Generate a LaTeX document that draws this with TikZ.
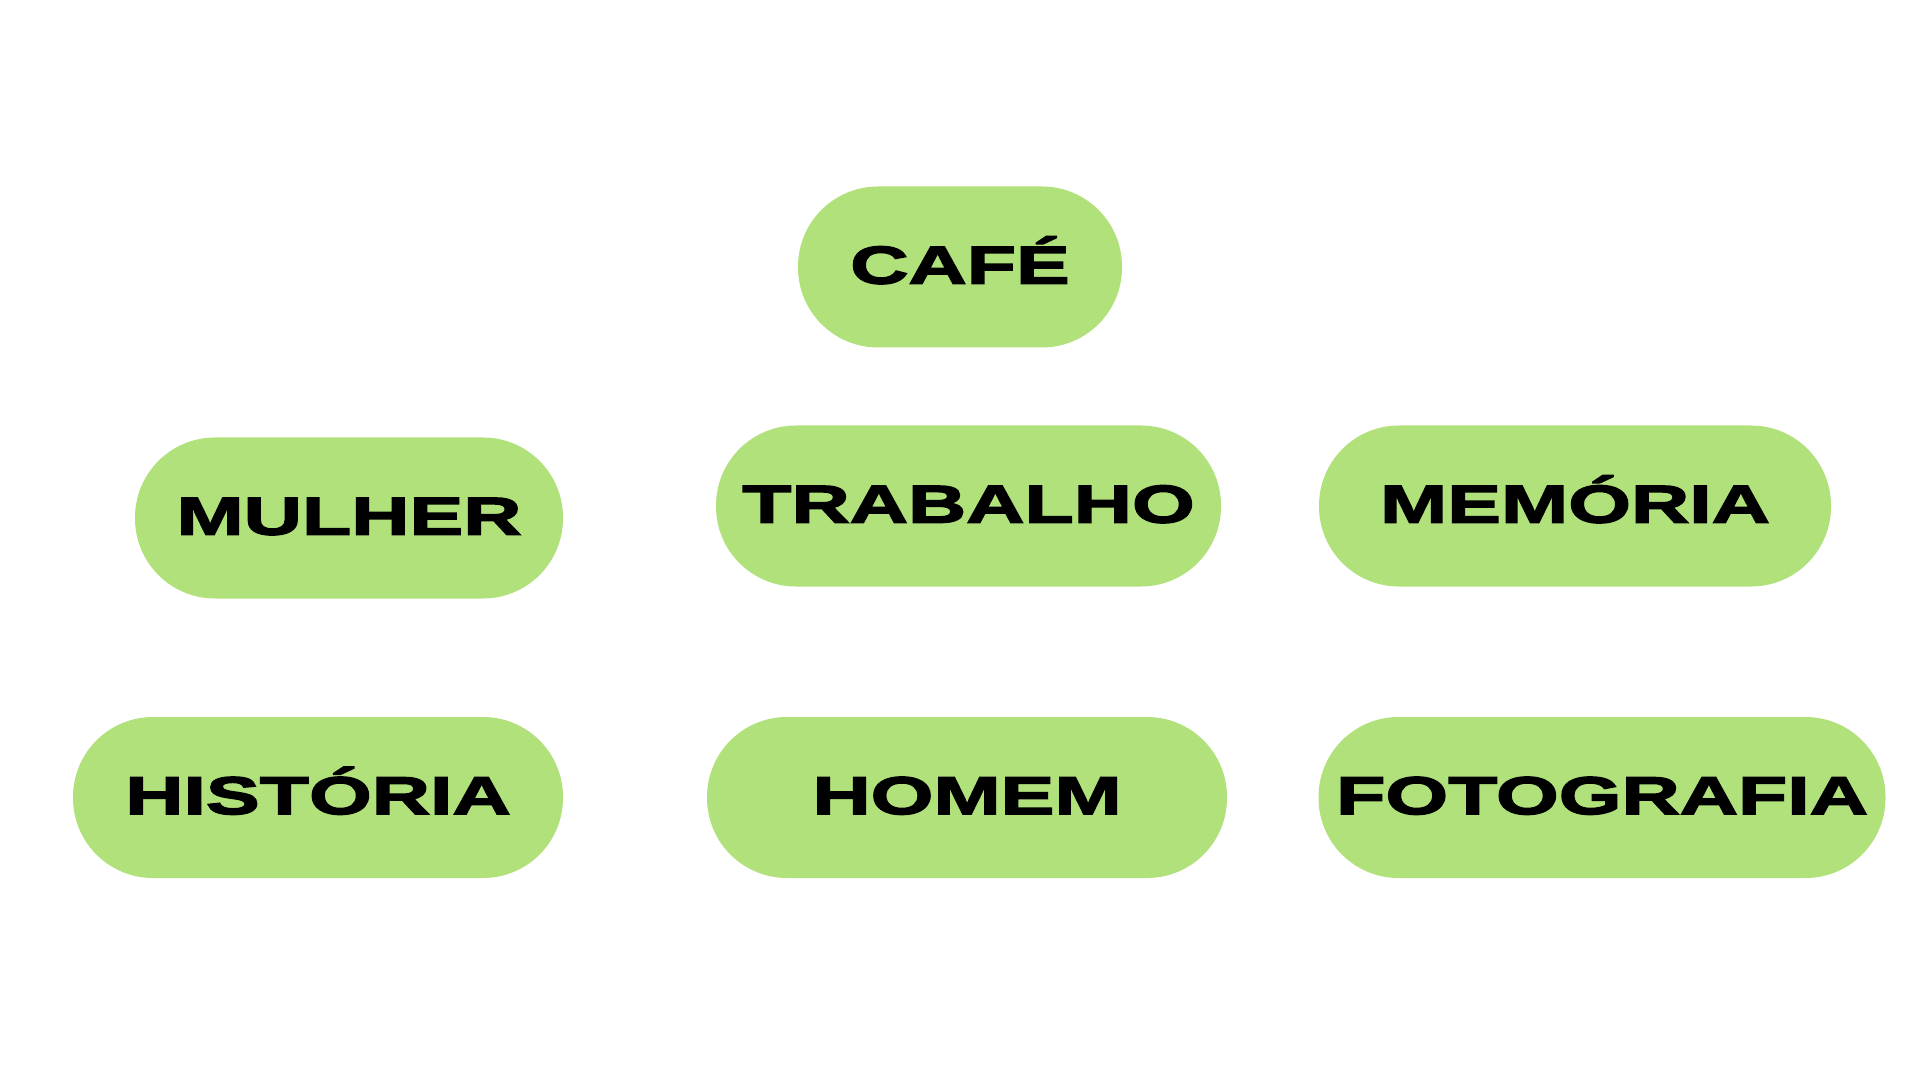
\documentclass[tikz,border=0pt]{standalone}
\usepackage{fontspec}
\usepackage{xcolor}
\usepackage{tikz}
\newfontfamily\pillfont{Liberation Sans}[FakeStretch=1.52,BoldFeatures={FakeBold=3}]
\definecolor{pillgreen}{HTML}{B1E17B}

\begin{document}
\begin{tikzpicture}[pill/.style={fill=pillgreen,rounded corners=0.8cm,minimum height=1.61cm,inner sep=0pt,text height=9.4pt,text depth=0pt,font=\pillfont\bfseries\fontsize{15.1}{18}\selectfont}]
\fill[white] (0,0) rectangle (19.2,-10.8);
\useasboundingbox (0,0) rectangle (19.2,-10.8);
\foreach \name/\x/\y/\w/\label in {cafe/9.60/-2.67/3.24/CAFÉ,mulher/3.49/-5.18/4.28/MULHER,trabalho/9.685/-5.06/5.05/TRABALHO,memoria/15.75/-5.06/5.12/MEMÓRIA,historia/3.18/-7.975/4.90/HISTÓRIA,homem/9.67/-7.975/5.20/HOMEM,fotografia/16.02/-7.975/5.67/FOTOGRAFIA}
{ \node[pill,minimum width=\w cm] (\name) at (\x,\y) {\label};
}
\end{tikzpicture}
\end{document}
